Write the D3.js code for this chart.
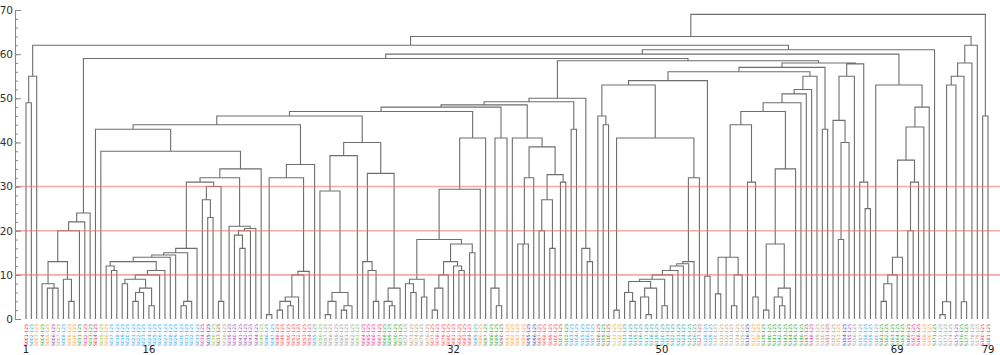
<!DOCTYPE html>
<html><head><meta charset="utf-8">
<script src="https://cdn.jsdelivr.net/npm/d3@7"></script>
<style>body{margin:0;background:#fff}svg{display:block}</style>
</head><body>
<svg id="c" width="1000" height="355"></svg>
<script>
// ---- tree data: [left, right, height]; numbers are leaf ids ----
const A = [[0,1,49],2,55];
const B1 = [[3,[[4,5,7],6,7],8],[7,[8,9,4],9],13];
const B4 = [[[B1,10,20],11,22],12,24];
const flatB = [15,[16,17,11],12];
const flatJ = [[[[18,19,8],[[[20,21,4],22,6],[23,24,3],7],9],25,10],26,11];
const flatN = [[[[[flatB,flatJ,13],27,14],28,14.5],[[29,30,3],31,4],15],32,16];
const R31 = [[33,[34,35,23],27],[36,37,4],30];
const K = [38,[[[39,[40,41,16],19],42,20],43,20.5],21];
const E = [[[flatN,R31,31],K,32],44,34];
const D = [13,[14,E,38],43];
const Q2 = [[[[[47,48,2],[49,50,3],4],51,5],52,10],53,10.8];
const P35 = [[[45,46,1],Q2,32],54,35];
const V44 = [D,P35,44];
const X6 = [[[56,57,1],58,4],[[59,60,2],61,3],6];
const V40 = [[[55,X6,29],62,37],[[63,[64,[65,66,4],11],13],[[67,[68,69,3],4],70,7],33],40];
const Z9 = [[71,[72,73,6],8],[74,75,5],9];
const C13 = [[[[76,77,2],78,7],79,10],[80,[81,82,11],12],13];
const V41a = [[[Z9,[C13,[83,84,15],17],18],85,29.4],86,41];
const T4 = [[87,[88,89,3],7],90,41];
const T5 = [91,[[[[92,93,17],94,17],95,32],[[[96,97,20],[98,99,16],27],[100,101,31],32.7],39],41];
const T6 = [102,103,43];
const Yc = [104,[105,106,13],16];
const N50 = [[[[[[V44,V40,46],V41a,47],T4,48],T5,48.5],T6,49.2],Yc,50];
const R13 = [[[[[[[[112,[113,114,4],6],[[115,[116,117,1],5],118,7],8.5],[119,120,3],9],121,10],122,11],123,12],124,12.5],125,13];
const V41b = [[110,111,2],[R13,126,32],41];
const V54 = [[[107,[108,109,44],46],V41b,53],[127,128,9.7],54];
const W44 = [[[[129,130,5.7],131,14],[[132,133,3],134,10],14],[135,[136,137,5],31],44];
const W34 = [[[138,139,2],[[140,[141,142,3],5],143,7],17],144,34];
const Qc = [[[[[W44,W34,47],145,49],146,51],147,52],148,55];
const V57 = [[V54,Qc,56],[149,150,43],57];
const V59 = [[[151,[[152,153,18],154,40],45],155,55],[156,[157,158,25],31],57.8];
const RB = [159,[[[[[[[160,161,4],162,8],163,10],164,14],[[165,166,20],167,31],36],168,43.5],169,48],53];
const L59 = [B4,[N50,[V57,V59,58],58.5],59];
const N62 = [A,[[L59,RB,60],170,61],62];
const R62 = [[[[[[171,172,1],173,3.9],174,53],[175,176,3.9],55],177,58],178,62];
const ROOT = [[N62,R62,64],[179,180,46],69];

const yTicks = [0,10,20,30,40,50,60,70];
const cutLines = [10,20,30];
const bottomLabels = [{leaf:0,text:"1"},{leaf:23,text:"16"},{leaf:80,text:"32"},{leaf:119,text:"50"},{leaf:163,text:"69"},{leaf:180,text:"79"}];
// leaf colour groups [fromLeaf, toLeaf, colour]
const colourRuns = [
 [0,0,"#e41a1c"],[1,1,"#2fa4e7"],[2,2,"#ff9a2e"],[3,3,"#2ca02c"],[4,4,"#ff9a2e"],[5,5,"#7b3fa0"],[6,6,"#b5a27a"],
 [7,7,"#2fa4e7"],[8,9,"#ff9a2e"],[10,10,"#2ca02c"],[11,11,"#e7298a"],[12,12,"#2ca02c"],[13,13,"#e41a1c"],[14,14,"#7fc241"],
 [15,15,"#ff9a2e"],[16,32,"#2fa4e7"],[33,33,"#e7298a"],[34,34,"#3b3b9e"],[35,35,"#7fc241"],[36,36,"#8c6239"],[37,37,"#b5a27a"],
 [38,43,"#9a4fb0"],[44,44,"#7fc241"],[45,46,"#2fa4e7"],[47,53,"#f0484e"],[54,54,"#2fa4e7"],[55,55,"#7fc241"],[56,61,"#999999"],
 [62,62,"#7fc241"],[63,66,"#e7298a"],[67,70,"#2ca02c"],[71,75,"#a8987a"],[76,83,"#f0484e"],[84,84,"#2fa4e7"],[85,85,"#ff9a2e"],
 [86,88,"#2ca02c"],[89,89,"#8c6239"],[90,93,"#ff9a2e"],[94,95,"#3b3b9e"],[96,99,"#f0484e"],[100,100,"#8c6239"],[101,101,"#2ca02c"],
 [102,103,"#2fa4e7"],[104,106,"#2fa4e7"],[107,107,"#8c6239"],[108,108,"#2ca02c"],[109,109,"#8c6239"],[110,110,"#d4c800"],[111,111,"#ff9a2e"],
 [112,125,"#26a69a"],[126,126,"#f0484e"],[127,128,"#2fa4e7"],[129,134,"#b5a27a"],[135,135,"#3b3b9e"],[136,137,"#ff9a2e"],[138,145,"#2ca02c"],
 [146,146,"#8c6239"],[147,147,"#e7298a"],[148,149,"#b5a27a"],[150,150,"#f0484e"],[151,151,"#999999"],[152,152,"#ff9a2e"],[153,153,"#3b3b9e"],
 [154,154,"#9a4fb0"],[155,156,"#999999"],[157,158,"#2fa4e7"],[159,159,"#999999"],[160,164,"#2ca02c"],[165,165,"#8c6239"],[166,167,"#e7298a"],
 [168,169,"#ff9a2e"],[170,170,"#2ca02c"],[171,173,"#999999"],[174,174,"#9a4fb0"],[175,176,"#2ca02c"],[177,177,"#999999"],[178,178,"#b5a27a"],
 [179,179,"#e7298a"],[180,180,"#8c6239"]];

// ---- build hierarchy ----
function toNode(a){ return Array.isArray(a) ? {h:a[2], children:[toNode(a[0]),toNode(a[1])]} : {id:a, h:0}; }
const root = d3.hierarchy(toNode(ROOT));
const leaves = root.leaves();
const leafOrder = leaves.map(d=>d.data.id);
const colourOf = {};
colourRuns.forEach(([a,b,c])=>{ for(let i=a;i<=b;i++) colourOf[i]=c; });

const x = d3.scalePoint().domain(leafOrder).range([26,988]);
const y = d3.scaleLinear().domain([0,70]).range([319,10]);
root.eachAfter(n=>{ n.px = n.children ? (n.children[0].px+n.children[1].px)/2 : x(n.data.id); });

const svg = d3.select("#c");
const g = svg.append("g");

// links
const path = d3.path();
root.each(n=>{
  if(!n.children) return;
  const yy = y(n.data.h);
  const [c0,c1] = n.children;
  path.moveTo(c0.px, y(c0.data.h)); path.lineTo(c0.px, yy); path.lineTo(c1.px, yy); path.lineTo(c1.px, y(c1.data.h));
});
g.append("path").attr("d", path.toString()).attr("fill","none").attr("stroke","#6e6e6e").attr("stroke-width",1.1);

// cut lines
g.selectAll("line.cut").data(cutLines).join("line").attr("class","cut")
 .attr("x1",16).attr("x2",1000).attr("y1",d=>y(d)).attr("y2",d=>y(d))
 .attr("stroke","#f07070").attr("stroke-opacity",0.6).attr("stroke-width",1.6);

// axis
const axMinor = d3.axisLeft(y).tickValues(d3.range(0,71,2)).tickSize(-3).tickFormat("");
const axMajor = d3.axisLeft(y).tickValues(yTicks).tickSize(-6).tickPadding(3);
const gMin = svg.append("g").attr("transform","translate(15,0)").call(axMinor);
const gMaj = svg.append("g").attr("transform","translate(15,0)").call(axMajor);
[gMin,gMaj].forEach(a=>{ a.select(".domain").attr("stroke","#888"); a.selectAll(".tick line").attr("stroke","#888"); });
gMaj.selectAll("text").attr("font-family","DejaVu Sans, sans-serif").attr("font-size",10.5).attr("fill","#333").attr("x",-2);

// leaf labels
g.selectAll("text.leaf").data(leaves).join("text").attr("class","leaf")
 .attr("transform",d=>`translate(${d.px+1.8},346) rotate(-90)`)
 .attr("font-family","DejaVu Sans, sans-serif").attr("font-size",4.6)
 .attr("fill",d=>colourOf[d.data.id]||"#999")
 .text(d=>"S"+String(d.data.id+1).padStart(3,"0")+"-125");

// bottom labels
svg.selectAll("text.bl").data(bottomLabels).join("text").attr("class","bl")
 .attr("x",d=>x(d.leaf)).attr("y",353).attr("text-anchor","middle")
 .attr("font-family","DejaVu Sans, sans-serif").attr("font-size",10).attr("fill","#222")
 .text(d=>d.text);
</script>
</body></html>
